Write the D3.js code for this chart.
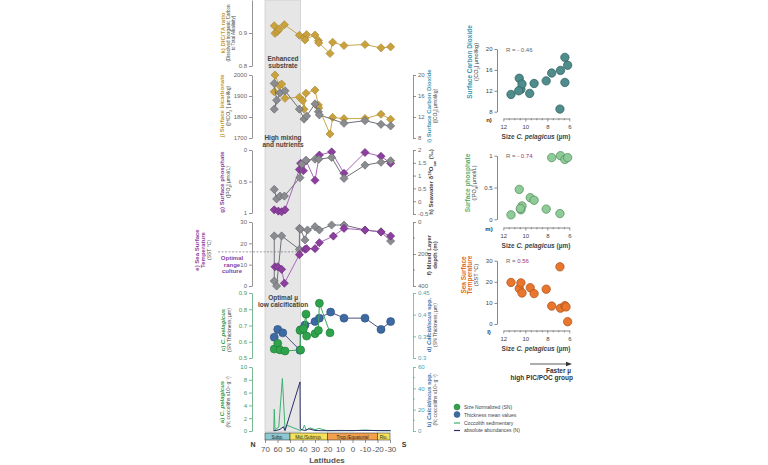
<!DOCTYPE html>
<meta charset="utf-8">
<style>
body { margin: 0; background: #fff; }
svg { font-family: "Liberation Sans", Arial, sans-serif; }
</style>
<svg width="768" height="465"></svg>
<script src="https://cdn.jsdelivr.net/npm/d3@7"></script>
<script>

// ---- data (latitude, value) ----
var latTicks = [70, 60, 50, 40, 30, 20, 10, 0, -10, -20, -30];
var zoneNames = ["Subp.", "Mid./Subtrop.", "Trop./Equatorial", "Rio."];
var zoneEdges = [70, 50, 20, -20, -30];

var dicta = [[62.6,0.922],[62,0.899],[60,0.905],[58.5,0.912],[54.5,0.925],[42.5,0.893],[38.8,0.887],[36.7,0.895],[38,0.879],[30,0.894],[27.3,0.877],[27,0.87],[18,0.838],[15.9,0.872],[6.8,0.862],[-10,0.865],[-22.8,0.855],[-30.5,0.858]];
var hco3 = [[62.6,1920],[62,2000],[58.5,1950],[56.7,1957],[54,1889],[42.5,1894],[39.8,1878],[38.8,1837],[37.2,1913],[30,1928],[27.3,1857],[27,1843],[18,1719],[15.9,1798],[6.8,1792],[-10,1793],[-22.8,1813],[-30.5,1789]];
var co2 = [[62.6,18.4],[60.7,15.2],[62.6,13.5],[58,16.6],[54,17],[42.5,13.5],[38.8,11.6],[36.7,12.2],[30,14.5],[27.3,13],[26.5,12.4],[6.8,10.8],[-10,11.3],[-22.8,10.6],[-30.5,10.3]];
var po4 = [[62.6,0.95],[59.3,0.97],[56.7,0.98],[54,0.95],[42.5,0.31],[41.5,0.21],[39.3,0.33],[37.2,0.17],[30,0.48],[26.5,0.08],[16.7,0.03],[6.8,0.37],[-10,0.04],[-22.8,0.1],[-30.5,0.21]];
var d18o = [[62.6,0.46],[60.7,0.09],[58,0.2],[54.5,0.2],[42,0.92],[40.5,1.45],[37.2,1.6],[30,1.64],[27,1.64],[16.7,1.71],[6.8,0.89],[-10,1.41],[-22.8,1.52],[-30.5,1.58]];
var sst = [[62,9],[59.8,9],[56.7,7.8],[54.5,1.3],[42.5,14.7],[38,17.2],[36.7,17.5],[30,17.5],[26.5,20.3],[15.3,23.4],[6.8,27],[-10,26.2],[-22.8,25.3],[-30.5,23.4]];
var mld = [[62.6,87],[62.6,369],[60.7,400],[56.7,87],[42.5,171],[42.5,40],[41.5,45],[38,112],[36,50],[30,29],[26.5,50],[16.7,19],[6.8,19],[-10,50],[-22.8,61],[-30.5,119]];
var snPel = [[62.6,0.555],[59.8,0.59],[58,0.55],[54,0.543],[41.5,0.55],[42,0.67],[39.3,0.68],[37.2,0.77],[36.7,0.635],[30,0.65],[27.3,0.67],[26.5,0.837],[18,0.655]];
var thCal = [[62.6,0.348],[59.8,0.366],[55.8,0.358],[42,0.318],[41.5,0.365],[38,0.376],[30,0.384],[26.5,0.392],[17.5,0.406],[6.8,0.392],[-10,0.392],[-22.8,0.366],[-30.5,0.384]];
var nPel = [[63,0],[62.6,3.4],[62,0.2],[59,0.6],[56.1,8.2],[54,0.3],[52.5,0.9],[42,0.1],[40,0.2],[38.5,0.9],[37,0.1],[34,0.5],[30,0.2],[27,0.4],[20,0.05],[10,0.1],[0,0.05],[-10,0.15],[-20,0.05],[-30.5,0.05]];
var nCal = [[63,0.3],[61,0.5],[58,1.5],[55.3,4],[54,0.3],[42,46],[41.8,2],[40,1],[38,0.5],[35,2],[30,0.5],[25,0.3],[10,0.3],[-10,0.5],[-30.5,0.3]];

// size of C. pelagicus (um) vs environment
var scatCO2 = [[11.3,11.3],[10.55,14.4],[10.4,12.3],[10.3,13.3],[10.6,12],[9.6,11.5],[9.2,13.4],[8.1,13.9],[7.6,15.4],[6.8,15.9],[6.4,18.4],[6.15,16.9],[6.4,13.6],[6.85,8.5]];
var scatPO4 = [[11.3,0.07],[10.55,0.47],[10.4,0.15],[10.3,0.21],[10.45,0.17],[9.55,0.34],[9.2,0.3],[8.1,0.16],[7.6,0.97],[6.85,0.09],[6.8,1.0],[6.4,0.94],[6.15,0.97]];
var scatSST = [[11.3,19.7],[10.55,16.8],[10.4,19.5],[10.3,14.7],[9.55,17.2],[9.2,14.4],[8.1,16.5],[7.6,8.5],[6.85,27.1],[6.8,7.5],[6.4,8.7],[6.3,8.1],[6.15,1.1]];

var svg = d3.select("svg");
svg.append("rect").attr("width", 768).attr("height", 465).attr("fill", "#fff");

var x = d3.scaleLinear().domain([70, -30]).range([265, 390]);
var L = 252, R = 413;

var yK = d3.scaleLinear().domain([0.8, 1.0]).range([66, 0]);
var yJ = d3.scaleLinear().domain([1700, 2000]).range([138, 75]);
var yI = d3.scaleLinear().domain([8, 20]).range([138, 75]);
var yG = d3.scaleLinear().domain([0, 1]).range([150, 213]);
var yH = d3.scaleLinear().domain([-0.5, 2]).range([214, 150]);
var yE = d3.scaleLinear().domain([0, 30]).range([286, 222]);
var yF = d3.scaleLinear().domain([0, 400]).range([222, 286]);
var yC = d3.scaleLinear().domain([0.5, 0.9]).range([358, 293]);
var yD = d3.scaleLinear().domain([0.3, 0.45]).range([358, 293]);
var yA = d3.scaleLinear().domain([0, 10]).range([431, 367]);
var yB = d3.scaleLinear().domain([0, 60]).range([431, 367]);

// shaded band
svg.append("rect")
    .attr("x", x(70)).attr("y", 0)
    .attr("width", x(41.5) - x(70)).attr("height", 432)
    .attr("fill", "#e6e6e6").attr("stroke", "#c4c4c4").attr("stroke-width", 0.6);

function yAxis(scale, ticks, side, color, minor) {
  var ax = (side == "L" ? d3.axisLeft(scale) : d3.axisRight(scale))
      .tickValues(ticks).tickSize(3).tickSizeOuter(0).tickPadding(2)
      .tickFormat(function(d) { return String(d); });
  var g = svg.append("g")
      .attr("transform", "translate(" + (side == "L" ? L : R) + ",0)")
      .call(ax);
  g.select(".domain").attr("stroke", color).attr("stroke-width", 0.7);
  g.selectAll(".tick line").attr("stroke", color).attr("stroke-width", 0.7);
  g.selectAll(".tick text").attr("fill", color).style("font-size", "6px");
  if (minor) {
    g.selectAll(".minor").data(minor).enter().append("line")
      .attr("x1", 0).attr("x2", side == "L" ? -2 : 2)
      .attr("y1", function(d) { return scale(d); }).attr("y2", function(d) { return scale(d); })
      .attr("stroke", color).attr("stroke-width", 0.6);
  }
}

yAxis(yK, [0.8, 0.9], "L", "#666");
yAxis(yJ, [1700, 1800, 1900, 2000], "L", "#666");
yAxis(yI, [8, 12, 16, 20], "R", "#666");
yAxis(yG, [0, 0.5, 1], "L", "#666");
yAxis(yH, [-0.5, 0, 0.5, 1, 1.5, 2], "R", "#666");
yAxis(yE, [0, 10, 20, 30], "L", "#666");
yAxis(yF, [0, 200, 400], "R", "#666", [100, 300]);
yAxis(yC, [0.5, 0.6, 0.7, 0.8, 0.9], "L", "#3f9a63");
yAxis(yD, [0.3, 0.35, 0.4, 0.45], "R", "#4aa3ae");
yAxis(yA, [0, 2, 4, 6, 8, 10], "L", "#3f9a63");
yAxis(yB, [0, 20, 40, 60], "R", "#4aa3ae", [10, 30, 50]);

function lineOf(data, ys, color, w) {
  svg.append("path")
    .attr("d", d3.line().x(function(d) { return x(d[0]); }).y(function(d) { return ys(d[1]); })(data))
    .attr("fill", "none").attr("stroke", color).attr("stroke-width", w || 1);
}
function diamonds(data, ys, fill, stroke, lc) {
  lineOf(data, ys, lc);
  svg.append("g").selectAll("path").data(data).enter().append("path")
    .attr("d", d3.symbol(d3.symbolSquare, 33))
    .attr("transform", function(d) { return "translate(" + x(d[0]) + "," + ys(d[1]) + ") rotate(45)"; })
    .attr("fill", fill).attr("stroke", stroke).attr("stroke-width", 0.6);
}
function dots(data, ys, fill, stroke, lc) {
  lineOf(data, ys, lc);
  svg.append("g").selectAll("circle").data(data).enter().append("circle")
    .attr("cx", function(d) { return x(d[0]); }).attr("cy", function(d) { return ys(d[1]); })
    .attr("r", 4).attr("fill", fill).attr("stroke", stroke).attr("stroke-width", 0.6);
}

diamonds(dicta, yK, "#c9a23e", "#a5852e", "#c9a84a");
diamonds(hco3, yJ, "#c9a23e", "#a5852e", "#c9a84a");
diamonds(co2, yI, "#8a8c90", "#63656a", "#6e7078");
diamonds(po4, yG, "#8c3f9e", "#6a2a7a", "#a866b8");
diamonds(d18o, yH, "#8a8c90", "#63656a", "#6e7078");
diamonds(mld, yF, "#8a8c90", "#63656a", "#6e7078");
diamonds(sst, yE, "#8c3f9e", "#6a2a7a", "#a866b8");
dots(thCal, yD, "#3d6aa3", "#2b4d7a", "#4a4f86");
dots(snPel, yC, "#2fa24c", "#1f7a36", "#3aaa58");
lineOf(nPel, yA, "#3cb371", 1);
lineOf(nCal, yB, "#2c2f6b", 1);

// optimal range line
svg.append("line")
    .attr("x1", 218).attr("x2", x(42.5))
    .attr("y1", yE(16)).attr("y2", yE(16))
    .attr("stroke", "#777").attr("stroke-width", 0.7).attr("stroke-dasharray", "2,1.5");

// text helpers
function vtext(px, py, parts, size, weight) {
  var t = svg.append("text")
      .attr("transform", "translate(" + px + "," + py + ") rotate(-90)")
      .attr("text-anchor", "middle")
      .style("font-size", size + "px")
      .style("font-weight", weight || "normal");
  parts.forEach(function(p) {
    var s = t.append("tspan").text(p[0]).attr("fill", p[1]);
    if (p[2]) s.style("font-style", "italic");
    if (p[3]) s.attr("baseline-shift", p[3]).style("font-size", (size * 0.7) + "px");
  });
  return t;
}
function htext(px, py, str, size, color, anchor, weight) {
  return svg.append("text").attr("x", px).attr("y", py)
    .attr("text-anchor", anchor || "middle")
    .style("font-size", size + "px").style("font-weight", weight || "normal")
    .attr("fill", color).text(str);
}

var gold = "#c39a30", purple = "#8c3f9e", green = "#2f9a4c", blue = "#3b74a8", teal = "#3a9ab4", dark = "#444";

// left labels
vtext(225, 33, [["k) DIC/TA ratio", gold]], 6, "bold");
vtext(230, 33, [["(Dissolved Inorganic Carbon", dark]], 4.5);
vtext(235, 33, [["to Total Alkalinity)", dark]], 4.5);
vtext(224, 106, [["j) Surface bicarbonate", gold]], 6, "bold");
vtext(230, 106, [["([HCO", dark], ["3", dark, false, "sub"], ["\u207B] µmol/kg)", dark]], 5);
vtext(224, 182, [["g) Surface phosphate", purple]], 6, "bold");
vtext(230, 182, [["([PO", dark], ["4", dark, false, "sub"], ["] µmol/L)", dark]], 5);
vtext(199, 250, [["e) Sea Surface", purple]], 6, "bold");
vtext(205, 250, [["Temperature", purple]], 6, "bold");
vtext(211, 250, [["(SST °C)", dark]], 5);
vtext(225, 330, [["c) ", green], ["C. pelagicus", green, true]], 6, "bold");
vtext(231, 330, [["(SN Thickness; µm)", dark]], 5);
vtext(224, 402, [["a) ", green], ["C. pelagicus", green, true]], 6, "bold");
vtext(230, 402, [["(N; coccoliths x10\u2079 g\u207B\u00B9)", dark]], 5);

// right labels
vtext(431, 106, [["i) Surface Carbon Dioxide", teal]], 6, "bold");
vtext(437, 106, [["([CO", dark], ["2", dark, false, "sub"], ["] µmol/kg)", dark]], 5);
vtext(433, 182, [["h) Seawater \u03B4", dark], ["18", dark, false, "super"], ["O", dark], ["sw", dark, false, "sub"], [" (‰)", dark]], 6, "bold");
vtext(431, 255, [["f) Mixed Layer", dark]], 6, "bold");
vtext(437, 255, [["depth (m)", dark]], 6, "bold");
vtext(431, 325, [["d) ", blue], ["Calcidiscus", blue, true], [" spp.", blue]], 6, "bold");
vtext(437, 325, [["(SN Thickness; µm)", dark]], 5);
vtext(431, 400, [["b) ", blue], ["Calcidiscus", blue, true], [" spp.", blue]], 6, "bold");
vtext(437, 400, [["(N; coccoliths x10\u2079 g\u207B\u00B9)", dark]], 5);

// band annotations
htext(283, 61, "Enhanced", 6.5, "#444", "middle", "bold");
htext(283, 68, "substrate", 6.5, "#444", "middle", "bold");
htext(283, 140, "High mixing", 6.5, "#444", "middle", "bold");
htext(283, 147, "and nutrients", 6.5, "#444", "middle", "bold");
htext(283, 300, "Optimal µ", 6.5, "#444", "middle", "bold");
htext(283, 307, "low calcification", 6.5, "#444", "middle", "bold");
htext(232, 260, "Optimal", 6, purple, "middle", "bold");
htext(232, 266.5, "range", 6, purple, "middle", "bold");
htext(232, 273, "culture", 6, purple, "middle", "bold");

// zone bar
var zc = ["#8cc8d2", "#f5e25a", "#f2a04c", "#f5e25a"];
zoneNames.forEach(function(n, i) {
  svg.append("rect")
    .attr("x", x(zoneEdges[i])).attr("y", 433)
    .attr("width", x(zoneEdges[i + 1]) - x(zoneEdges[i])).attr("height", 7)
    .attr("fill", zc[i]).attr("stroke", "#222").attr("stroke-width", 0.5);
  htext((x(zoneEdges[i]) + x(zoneEdges[i + 1])) / 2, 438.5, n, 4.5, "#222");
});

// latitude axis
var xa = svg.append("g").attr("transform", "translate(0,440)")
    .call(d3.axisBottom(x).tickValues(latTicks).tickSize(3).tickSizeOuter(0).tickPadding(3)
      .tickFormat(function(d) { return String(d); }));
xa.select(".domain").remove();
xa.selectAll(".tick line").attr("stroke", "#666").attr("stroke-width", 0.7);
xa.selectAll(".tick text").attr("fill", "#555").style("font-size", "8px");
htext(327, 463, "Latitudes", 8, "#555", "middle", "bold");
htext(253, 447, "N", 7, "#333", "middle", "bold");
htext(404, 447, "S", 7, "#333", "middle", "bold");

// legend
svg.append("circle").attr("cx", 457).attr("cy", 407).attr("r", 3).attr("fill", "#2fa24c").attr("stroke", "#1f7a36").attr("stroke-width", 0.5);
svg.append("circle").attr("cx", 457).attr("cy", 414.5).attr("r", 3).attr("fill", "#3d6aa3").attr("stroke", "#2b4d7a").attr("stroke-width", 0.5);
svg.append("line").attr("x1", 454).attr("x2", 460).attr("y1", 423).attr("y2", 423).attr("stroke", "#3cb371").attr("stroke-width", 1.2);
svg.append("line").attr("x1", 454).attr("x2", 460).attr("y1", 430.5).attr("y2", 430.5).attr("stroke", "#2c2f6b").attr("stroke-width", 1.2);
htext(464, 409, "Size Normalized (SN)", 5, "#444", "start");
htext(464, 416.5, "Thickness mean values", 5, "#444", "start");
htext(464, 424.5, "Coccolith sedimentary", 5, "#444", "start");
htext(464, 432, "absolute abundances (N)", 5, "#444", "start");

// scatter panels
var sx = d3.scaleLinear().domain([12, 6]).range([503.3, 569.3]);
function scatter(data, ys, ticks, axY, tag, rVal, rCol, fill, stroke) {
  var gy = svg.append("g").attr("transform", "translate(497,0)")
      .call(d3.axisLeft(ys).tickValues(ticks).tickSize(2.5).tickSizeOuter(0).tickPadding(2)
        .tickFormat(function(d) { return String(d); }));
  gy.select(".domain").attr("stroke", "#555").attr("stroke-width", 0.7);
  gy.selectAll(".tick line").attr("stroke", "#555").attr("stroke-width", 0.7);
  gy.selectAll(".tick text").attr("fill", "#444").style("font-size", "6px");
  var gx = svg.append("g").attr("transform", "translate(0," + axY + ")")
      .call(d3.axisBottom(sx).tickValues(d3.range(12, 5.9, -0.5)).tickSize(2).tickSizeOuter(0).tickPadding(4)
        .tickFormat(function(d) { return d % 2 == 0 ? String(d) : ""; }));
  gx.select(".domain").attr("stroke", "#555").attr("stroke-width", 0.7);
  gx.selectAll(".tick line").attr("stroke", "#555").attr("stroke-width", 0.6)
    .attr("y2", function(d) { return d % 2 == 0 ? 3 : 1.8; });
  gx.selectAll(".tick text").attr("fill", "#444").style("font-size", "6px");
  htext(489, axY + 3, tag, 6, "#333", "middle", "bold");
  var rt = svg.append("text").attr("x", 506).attr("y", ys.range()[1] + 2.5).style("font-size", "6px").attr("fill", "#666");
  rt.append("tspan").text("R = ");
  rt.append("tspan").text(rVal).attr("fill", rCol);
  var tt = svg.append("text").attr("x", 536).attr("y", axY + 20).attr("text-anchor", "middle")
      .style("font-size", "6.5px").style("font-weight", "bold").attr("fill", "#444");
  tt.append("tspan").text("Size ");
  tt.append("tspan").text("C. pelagicus").style("font-style", "italic");
  tt.append("tspan").text(" (µm)");
  svg.append("g").selectAll("circle").data(data).enter().append("circle")
    .attr("cx", function(d) { return sx(d[0]); }).attr("cy", function(d) { return ys(d[1]); })
    .attr("r", 4.2).attr("fill", fill).attr("stroke", stroke).attr("stroke-width", 0.7);
}

var syN = d3.scaleLinear().domain([8, 20]).range([111.7, 49]);
var syM = d3.scaleLinear().domain([0, 1]).range([219.3, 155.7]);
var syL = d3.scaleLinear().domain([0, 30]).range([324, 260.7]);
scatter(scatCO2, syN, [8, 12, 16, 20], 118.5, "n)", "- 0.46", "#666", "#4f8c8c", "#2f5c5c");
scatter(scatPO4, syM, [0, 0.5, 1], 227.5, "m)", "- 0.74", "#a0307a", "#8fcb98", "#4a8a55");
scatter(scatSST, syL, [0, 10, 20, 30], 330.5, "l)", "0.56", "#a0307a", "#e8762c", "#a9501a");

vtext(472, 62, [["Surface Carbon Dioxide", teal]], 6.5, "bold");
vtext(478, 62, [["([CO", dark], ["2", dark, false, "sub"], ["] µmol/kg)", dark]], 5.5);
vtext(470, 183, [["Surface phosphate", "#5aae6a"]], 6.5, "bold");
vtext(476, 183, [["([PO", dark], ["4", dark, false, "sub"], ["] µmol/L)", dark]], 5.5);
vtext(466, 275, [["Sea Surface", "#e06a20"]], 6.5, "bold");
vtext(472, 275, [["Temperature", "#e06a20"]], 6.5, "bold");
vtext(478, 275, [["(SST °C)", dark]], 5.5);

// arrow
svg.append("line").attr("x1", 530).attr("x2", 568).attr("y1", 364).attr("y2", 364).attr("stroke", "#333").attr("stroke-width", 0.8);
svg.append("path").attr("d", "M572,364 L566,361.8 L566,366.2 Z").attr("fill", "#333");
htext(571, 373, "Faster µ", 6.5, "#333", "end", "bold");
htext(573, 380, "high PIC/POC group", 6.5, "#333", "end", "bold");

</script>
